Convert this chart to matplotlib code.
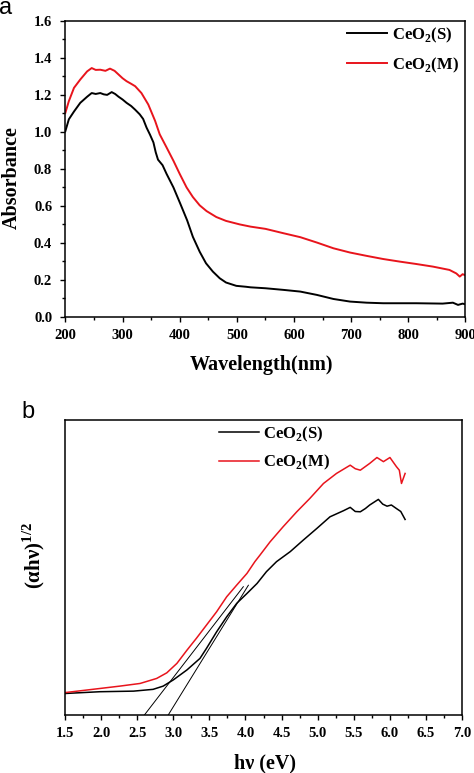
import matplotlib
matplotlib.use('Agg')
import matplotlib.pyplot as plt
from matplotlib.ticker import MultipleLocator

plt.rcParams['font.family'] = ['Liberation Serif', 'DejaVu Serif']
plt.rcParams['font.weight'] = 'bold'
plt.rcParams['mathtext.fontset'] = 'custom'
plt.rcParams['mathtext.rm'] = 'Liberation Serif:bold'
plt.rcParams['mathtext.bf'] = 'Liberation Serif:bold'

# panel a: UV-vis absorbance
wl_s = [200, 206, 215, 226, 238, 246, 253, 261, 267, 273, 281, 287, 293, 300, 307, 315, 322,
        330, 336, 342, 348, 354, 358, 362, 370, 377, 389, 401, 413, 423, 435, 446, 458, 470,
        481, 499, 516, 524, 550, 582, 611, 640, 669, 698, 727, 756, 814, 860, 878, 887, 895, 900]
abs_s = [1.005, 1.068, 1.11, 1.157, 1.19, 1.21, 1.205, 1.21, 1.203, 1.20, 1.215, 1.205, 1.19,
         1.175, 1.157, 1.14, 1.12, 1.095, 1.07, 1.023, 0.985, 0.943, 0.89, 0.85, 0.82, 0.773,
         0.70, 0.612, 0.522, 0.433, 0.352, 0.29, 0.245, 0.209, 0.186, 0.168, 0.163, 0.160,
         0.155, 0.146, 0.137, 0.119, 0.097, 0.083, 0.077, 0.074, 0.074, 0.072, 0.077, 0.065,
         0.072, 0.068]
wl_m = [200, 206, 215, 226, 238, 246, 253, 261, 270, 278, 286, 293, 300, 307, 315, 322, 333,
        345, 357, 365, 377, 389, 400, 412, 423, 435, 447, 464, 481, 505, 524, 550, 582, 611,
        640, 669, 698, 727, 756, 785, 814, 843, 872, 884, 890, 895, 900]
abs_m = [1.104, 1.166, 1.238, 1.283, 1.327, 1.345, 1.335, 1.336, 1.33, 1.342, 1.33, 1.31, 1.29,
         1.274, 1.26, 1.247, 1.21, 1.148, 1.059, 0.987, 0.916, 0.844, 0.773, 0.70, 0.648,
         0.603, 0.572, 0.54, 0.519, 0.50, 0.488, 0.476, 0.452, 0.431, 0.402, 0.371, 0.348,
         0.33, 0.313, 0.299, 0.286, 0.272, 0.254, 0.235, 0.218, 0.231, 0.225]

# panel b: Tauc plot (arbitrary units)
ev_s = [1.5, 1.985, 2.45, 2.72, 2.86, 3.0, 3.19, 3.37, 3.46, 3.6, 3.74, 3.88, 4.02, 4.16, 4.29,
        4.43, 4.62, 4.8, 4.99, 5.17, 5.36, 5.45, 5.52, 5.59, 5.66, 5.72, 5.84, 5.9, 5.96, 6.02,
        6.09, 6.15, 6.21]
tauc_s = [0.073, 0.079, 0.081, 0.087, 0.098, 0.119, 0.153, 0.192, 0.226, 0.282, 0.333, 0.379,
          0.412, 0.446, 0.486, 0.52, 0.554, 0.593, 0.633, 0.672, 0.693, 0.704, 0.69, 0.689,
          0.70, 0.712, 0.731, 0.715, 0.708, 0.712, 0.70, 0.69, 0.663]
ev_m = [1.5, 1.985, 2.26, 2.54, 2.77, 2.91, 3.05, 3.19, 3.32, 3.46, 3.6, 3.74, 3.88, 4.02, 4.13,
        4.2, 4.34, 4.52, 4.71, 4.89, 5.08, 5.26, 5.45, 5.52, 5.59, 5.72, 5.82, 5.91, 6.0, 6.09,
        6.13, 6.16, 6.21]
tauc_m = [0.076, 0.09, 0.098, 0.107, 0.124, 0.143, 0.175, 0.22, 0.26, 0.305, 0.35, 0.401, 0.441,
          0.48, 0.52, 0.542, 0.587, 0.638, 0.689, 0.734, 0.785, 0.819, 0.847, 0.835, 0.83,
          0.853, 0.873, 0.859, 0.873, 0.842, 0.83, 0.785, 0.819]
tan_m_x = [2.6, 3.97]
tan_m_y = [0.0, 0.435]
tan_s_x = [2.93, 4.04]
tan_s_y = [0.0, 0.44]

lbl_s = r'CeO$_{\mathbf{2}}$(S)'
lbl_m = r'CeO$_{\mathbf{2}}$(M)'
RED = '#e8141c'

fig = plt.figure(figsize=(4.74, 7.73), dpi=100)

# ---- a ----
ax1 = fig.add_axes([0.138, 0.590, 0.844, 0.383])
ax1.plot(wl_s, abs_s, color='black', lw=1.4, label=lbl_s)
ax1.plot(wl_m, abs_m, color=RED, lw=1.4, label=lbl_m)
ax1.set_xlim(200, 900)
ax1.set_ylim(0, 1.6)
ax1.xaxis.set_major_locator(MultipleLocator(100))
ax1.xaxis.set_minor_locator(MultipleLocator(50))
ax1.yaxis.set_major_locator(MultipleLocator(0.2))
ax1.yaxis.set_minor_locator(MultipleLocator(0.1))
ax1.yaxis.set_major_formatter(plt.FormatStrFormatter('%.1f'))
ax1.tick_params(which='both', direction='out', width=1.0, labelsize=10.5, top=False, right=False)
ax1.tick_params(which='major', length=3.5)
ax1.tick_params(which='minor', length=2.2)
ax1.tick_params(axis='x', pad=5)
ax1.tick_params(axis='y', pad=6)
ax1.set_xlabel('Wavelength(nm)', fontsize=14.5, fontweight='bold')
ax1.set_ylabel('Absorbance', fontsize=14.5, fontweight='bold')
ax1.xaxis.set_label_coords(0.49, -0.13)
ax1.yaxis.set_label_coords(-0.108, 0.47)
ax1.legend(loc='upper left', bbox_to_anchor=(0.703, 0.985), frameon=False, fontsize=12,
           handlelength=2.45, handletextpad=0.25, labelspacing=0.66, borderpad=0,
           borderaxespad=0)

# ---- b ----
ax2 = fig.add_axes([0.137, 0.075, 0.838, 0.3816])
ax2.plot(ev_s, tauc_s, color='black', lw=1.1, label=lbl_s)
ax2.plot(ev_m, tauc_m, color=RED, lw=1.1, label=lbl_m)
ax2.plot(tan_m_x, tan_m_y, color='black', lw=0.7)
ax2.plot(tan_s_x, tan_s_y, color='black', lw=0.7)
ax2.set_xlim(1.5, 7.0)
ax2.set_ylim(0, 1.0)
ax2.xaxis.set_major_locator(MultipleLocator(0.5))
ax2.xaxis.set_minor_locator(MultipleLocator(0.25))
ax2.xaxis.set_major_formatter(plt.FormatStrFormatter('%.1f'))
ax2.set_yticks([])
ax2.tick_params(which='both', direction='out', width=1.0, labelsize=10.5, top=False)
ax2.tick_params(which='major', length=3.5)
ax2.tick_params(which='minor', length=2.2)
ax2.tick_params(axis='x', pad=5)
ax2.set_xlabel('hν (eV)', fontsize=14.5, fontweight='bold')
ax2.set_ylabel(r'(αhν)$^{\mathbf{1/2}}$', fontsize=15, fontweight='bold')
ax2.xaxis.set_label_coords(0.504, -0.13)
ax2.yaxis.set_label_coords(-0.045, 0.54)
ax2.legend(loc='upper left', bbox_to_anchor=(0.388, 0.985), frameon=False, fontsize=12,
           handlelength=2.4, handletextpad=0.25, labelspacing=0.55, borderpad=0,
           borderaxespad=0)

for ax in (ax1, ax2):
    for sp in ax.spines.values():
        sp.set_linewidth(1.1)

fig.text(-0.002, 1 - 14 / 773, 'a', family=['Liberation Sans', 'DejaVu Sans'],
         fontweight='normal', fontsize=17, ha='left', va='baseline')
fig.text(0.046, 1 - 418 / 773, 'b', family=['Liberation Sans', 'DejaVu Sans'],
         fontweight='normal', fontsize=17, ha='left', va='baseline')

fig.savefig('out.png', dpi=100)
plt.close(fig)
